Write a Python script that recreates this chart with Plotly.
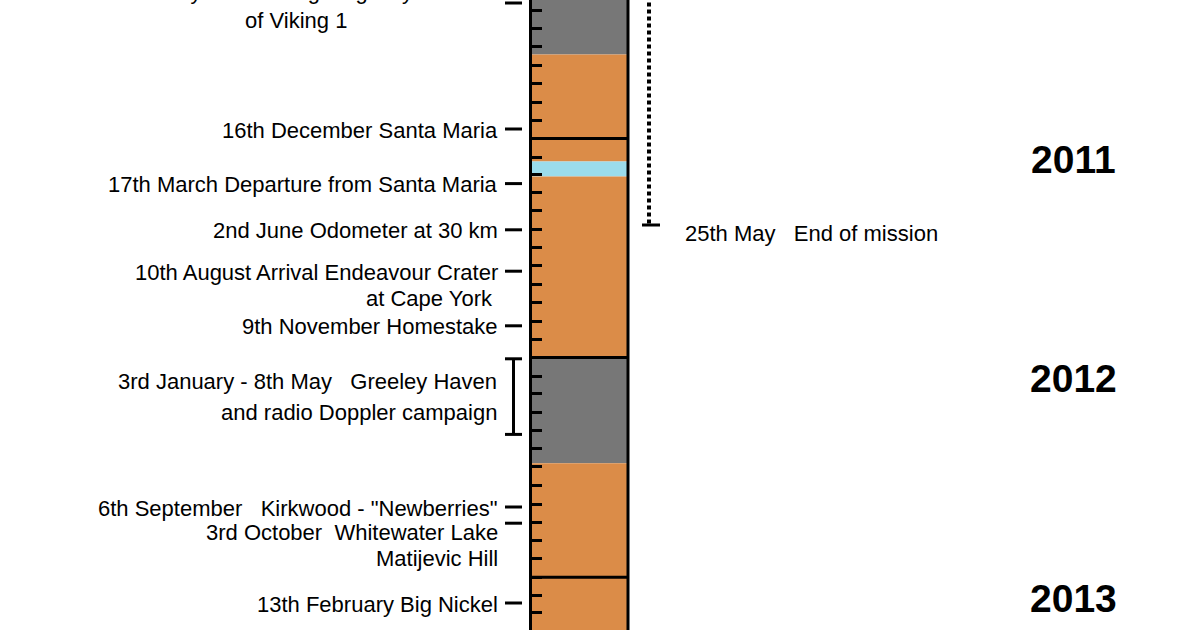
import plotly.graph_objects as go
import pandas as pd

# Opportunity rover timeline, 2010 - 2013
years = ["2011", "2012", "2013"]

# colored periods along the bar: (start, end, colour key)
period_starts = ["2010-01-01", "2010-02-20", "2010-08-14", "2011-01-01", "2011-02-08", "2011-03-05", "2012-01-01", "2012-06-25", "2013-01-01"]
period_ends = ["2010-02-20", "2010-08-14", "2011-01-01", "2011-02-08", "2011-03-05", "2012-01-01", "2012-06-25", "2013-01-01", "2013-12-31"]
period_kinds = ["drive", "winter", "drive", "drive", "conjunction", "drive", "winter", "drive", "drive"]

# single-day events on the left side
event_dates = ["2010-12-16", "2011-03-17", "2011-06-02", "2011-08-10",
               "2011-11-09", "2012-09-06", "2012-10-03", "2013-02-13"]
event_lines = [
    ["16th December Santa Maria"],
    ["17th March Departure from Santa Maria"],
    ["2nd June Odometer at 30 km"],
    ["10th August Arrival Endeavour Crater", "at Cape York\u00a0"],
    ["9th November Homestake"],
    ["6th September\u00a0\u00a0\u00a0Kirkwood - \"Newberries\""],
    ["3rd October\u00a0\u00a0Whitewater Lake", "Matijevic Hill"],
    ["13th February Big Nickel"],
]

viking_date = "2010-05-20"
viking_lines = ["20th May\u00a0\u00a0Overtaking longevity record", "of Viking 1"]

greeley_start = "2012-01-03"
greeley_end = "2012-05-08"
greeley_lines = ["3rd January - 8th May\u00a0\u00a0\u00a0Greeley\u00a0Haven", "and radio Doppler campaign"]

spirit_silent = "2010-03-22"
spirit_end = "2011-05-25"
spirit_label = "25th May\u00a0\u00a0\u00a0End of mission"

colors = {"drive": "#DB8C48", "winter": "#777777", "conjunction": "#9BDCEB"}
FONT = "Liberation Sans, Arial, sans-serif"
BAR_L, BAR_R = 530, 628
TICK_L, TICK_R = 505, 522

fig = go.Figure()

shapes = []
for s, e, k in zip(period_starts, period_ends, period_kinds):
    shapes.append(dict(type="rect", xref="x", yref="y", x0=BAR_L, x1=BAR_R, y0=s, y1=e,
                       fillcolor=colors[k], line=dict(width=0), layer="below"))
# year separators and right border
for y in years:
    shapes.append(dict(type="line", xref="x", yref="y", x0=BAR_L, x1=BAR_R,
                       y0=f"{y}-01-01", y1=f"{y}-01-01", line=dict(color="black", width=3)))
shapes.append(dict(type="line", xref="x", yref="paper", x0=BAR_R, x1=BAR_R, y0=0, y1=1,
                   line=dict(color="black", width=3)))

# event tick marks
tx, ty = [], []
for d in event_dates + [viking_date]:
    tx += [TICK_L, TICK_R, None]
    ty += [d, d, None]
fig.add_trace(go.Scatter(x=tx, y=ty, mode="lines", line=dict(color="black", width=3),
                         hoverinfo="skip", showlegend=False))

# Greeley Haven bracket
bx = (TICK_L + TICK_R) / 2
fig.add_trace(go.Scatter(
    x=[TICK_L, TICK_R, None, bx, bx, None, TICK_L, TICK_R],
    y=[greeley_start, greeley_start, None, greeley_start, greeley_end, None, greeley_end, greeley_end],
    mode="lines", line=dict(color="black", width=3), hoverinfo="skip", showlegend=False))

# Spirit: silent period until end of mission
fig.add_trace(go.Scatter(x=[649, 649], y=[spirit_silent, spirit_end], mode="lines",
                         line=dict(color="black", width=4, dash="4px,3px"),
                         hoverinfo="skip", showlegend=False))
fig.add_trace(go.Scatter(x=[642, 660], y=[spirit_end, spirit_end], mode="lines",
                         line=dict(color="black", width=3), hoverinfo="skip", showlegend=False))

annotations = []
txt = dict(family=FONT, size=22, color="black")

# per-event vertical nudges (px down) for the first line, and line spacing
first_offset = {6: 9}
line_gap = 26
for i, (d, lines) in enumerate(zip(event_dates, event_lines)):
    for j, line in enumerate(lines):
        down = first_offset.get(i, 1) + j * line_gap
        annotations.append(dict(x=500, y=d, xref="x", yref="y", text=line, showarrow=False,
                                xanchor="right", yanchor="middle", yshift=-down, font=txt))

annotations.append(dict(x=296, y=viking_date, xref="x", yref="y", text="<br>".join(viking_lines),
                        showarrow=False, xanchor="center", yanchor="middle", align="center",
                        yshift=-3, font=txt))

g_mid = pd.Timestamp(greeley_start) + (pd.Timestamp(greeley_end) - pd.Timestamp(greeley_start)) / 2
for j, line in enumerate(greeley_lines):
    annotations.append(dict(x=499, y=g_mid, xref="x", yref="y", text=line, showarrow=False,
                            xanchor="right", yanchor="middle", yshift=15 - j * 31, font=txt))

annotations.append(dict(x=683, y=spirit_end, xref="x", yref="y", text=spirit_label, showarrow=False,
                        xanchor="left", yanchor="middle", yshift=-8, font=txt))

for y in years:
    annotations.append(dict(x=1073, y=f"{y}-01-01", xref="x", yref="y", text=f"<b>{y}</b>",
                            showarrow=False, xanchor="center", yanchor="middle", yshift=-21,
                            font=dict(family=FONT, size=39, color="black")))

fig.update_layout(
    width=1200, height=630,
    margin=dict(l=0, r=0, t=0, b=0),
    paper_bgcolor="white", plot_bgcolor="white",
    shapes=shapes, annotations=annotations,
    showlegend=False,
    xaxis=dict(range=[0, 1200], visible=False, fixedrange=True),
    yaxis=dict(
        type="date",
        range=["2013-03-30", "2010-05-15"],
        anchor="free", position=BAR_L / 1200,
        showline=True, linecolor="black", linewidth=3,
        ticks="inside", ticklen=10, tickwidth=3, tickcolor="black",
        tick0="2010-01-01", dtick="M1",
        showticklabels=False, showgrid=False, zeroline=False,
    ),
)

# drop the browser's default body margin so the figure sits at the page corner
fig.write_html("out.html", config={"displayModeBar": False},
               post_script="document.body.style.margin='0';")
